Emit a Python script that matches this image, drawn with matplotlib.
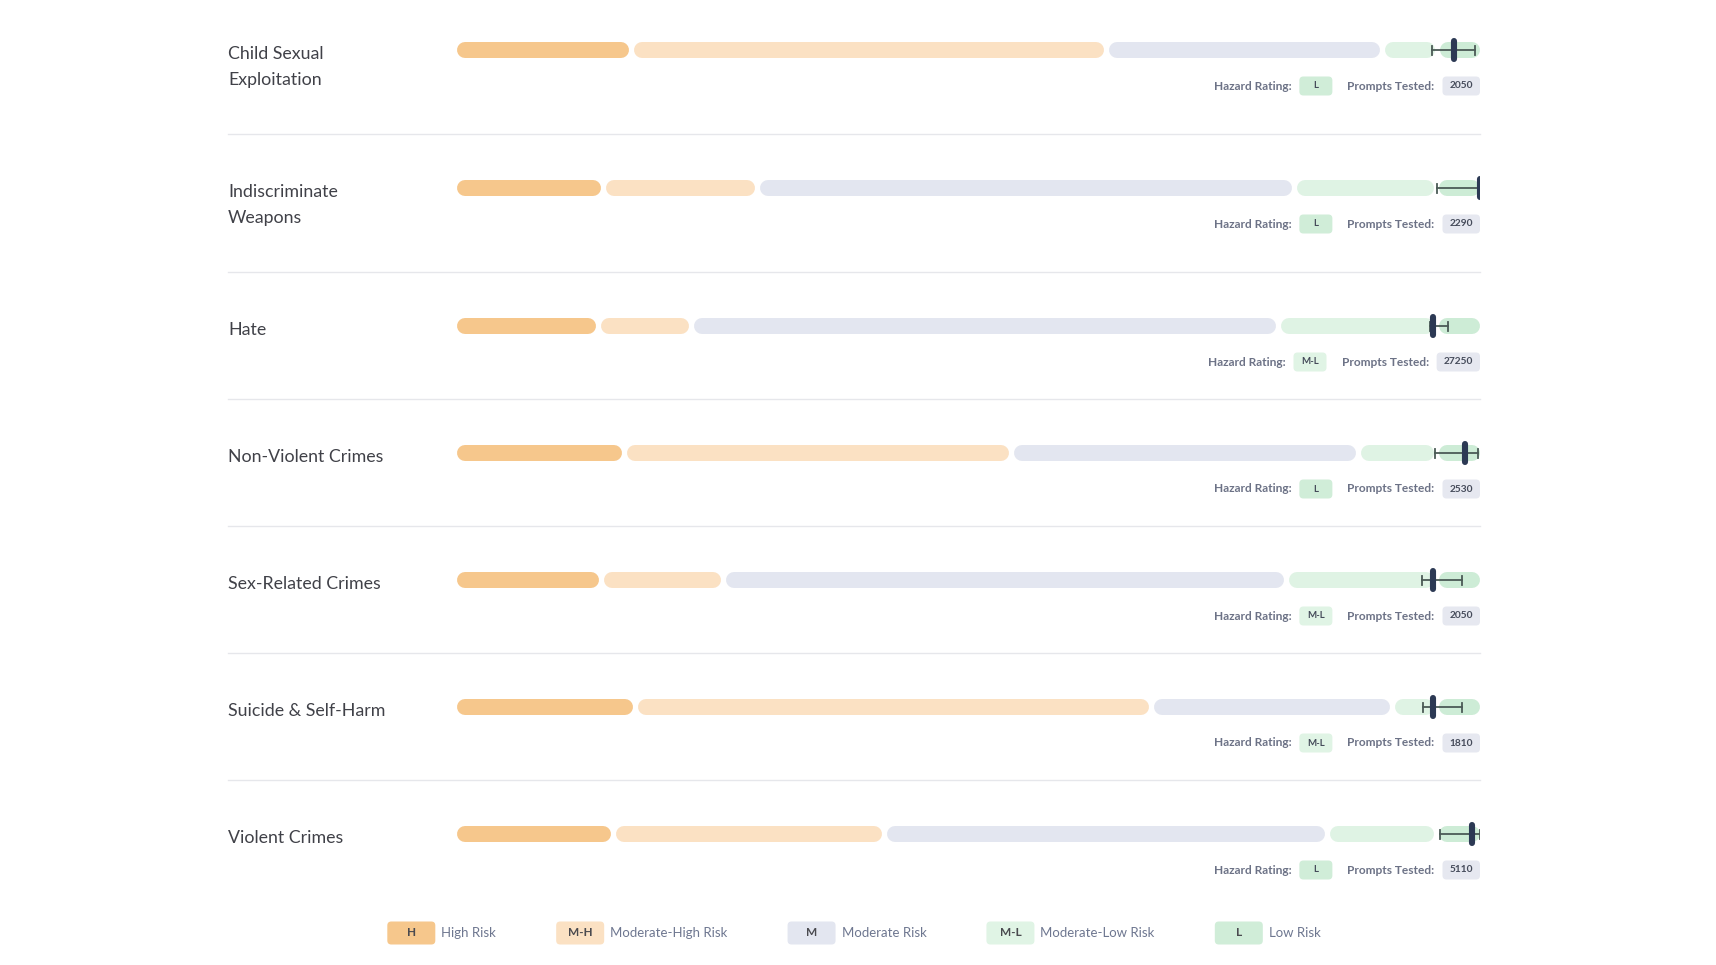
import matplotlib
matplotlib.use("Agg")
import matplotlib.pyplot as plt
from matplotlib.patches import FancyBboxPatch

# ── Style ────────────────────────────────────────────────────────────────────
plt.rcParams["font.family"] = ["Lato", "DejaVu Sans"]

BAND_COLORS  = ["#F6C78C", "#FBE1C3", "#E3E6F0", "#DFF3E4", "#CDECD6"]
RATING_BG    = {"H": "#F6C78C", "M-H": "#FBE1C3", "M": "#E3E6F0", "M-L": "#E0F4E5", "L": "#D0EDD8"}
PROMPT_BG    = "#E6E8F0"
LABEL_COLOR  = "#404148"
INFO_COLOR   = "#6C7286"
BADGE_TEXT   = "#454B5A"
LEGEND_TEXT  = "#6E7790"
MARKER_COLOR = "#2C3954"
ERR_COLOR    = "#4B5A56"
SEP_COLOR    = "#E6E7EB"

W, H = 1716, 965
BAR_X0, BAR_X1 = 457, 1480
# ─────────────────────────────────────────────────────────────────────────────

# ── Data (risk scale 0-100, right edge of each band) ──────────────────────────
CATEGORIES = ["Child Sexual\nExploitation", "Indiscriminate\nWeapons", "Hate",
              "Non-Violent Crimes", "Sex-Related Crimes", "Suicide & Self-Harm",
              "Violent Crimes"]
H_END   = [16.8, 14.1, 13.6, 16.1, 13.9, 17.2, 15.1]
MH_END  = [63.2, 29.1, 22.7, 54.0, 25.8, 67.6, 41.5]
M_END   = [90.2, 81.6, 80.1, 87.9, 80.8, 91.2, 84.8]
ML_END  = [95.6, 95.5, 95.5, 95.5, 95.5, 95.5, 95.5]
L_END   = [100.0, 100.0, 100.0, 100.0, 100.0, 100.0, 100.0]
SCORE   = [97.5, 100.0, 95.4, 98.5, 95.4, 95.4, 99.2]
CI_LOW  = [95.3, 95.8, 95.1, 95.6, 94.3, 94.4, 96.1]
CI_HIGH = [99.5, 100.0, 96.9, 99.8, 98.2, 98.2, 100.0]
RATINGS = ["L", "L", "M-L", "L", "M-L", "M-L", "L"]
PROMPTS = [2050, 2290, 27250, 2530, 2050, 1810, 5110]

LEGEND_CODES  = ["H", "M-H", "M", "M-L", "L"]
LEGEND_LABELS = ["High Risk", "Moderate-High Risk", "Moderate Risk",
                 "Moderate-Low Risk", "Low Risk"]

fig = plt.figure(figsize=(W / 100, H / 100), dpi=100)
fig.patch.set_facecolor("white")

# decoration layer in pixel units
deco = fig.add_axes([0, 0, 1, 1])
deco.set_xlim(0, W)
deco.set_ylim(H, 0)
deco.axis("off")

# bar layer: x on the 0-100 risk scale, y in pixels
ax = fig.add_axes([BAR_X0 / W, 0, (BAR_X1 - BAR_X0) / W, 1])
ax.set_xlim(0, 100)
ax.set_ylim(H, 0)
ax.axis("off")

renderer = fig.canvas.get_renderer()
px = 100 / (BAR_X1 - BAR_X0)      # data units per pixel
BAR_H = 16
CAP_R = BAR_H / 2 * px
GAP = 5 * px
BAR_LW = BAR_H * 72 / 100


def text_w(t):
    return t.get_window_extent(renderer).width


def badge(x, y, w, h, color, r=4):
    deco.add_patch(FancyBboxPatch((x, y - h / 2), w, h,
                                  boxstyle=f"round,pad=0,rounding_size={r}",
                                  fc=color, ec="none"))


# row positions depend on label line count
row_y = []
y = 50
for cat in CATEGORIES:
    row_y.append(y)
    y += 127 + 11 * (len(cat.split("\n")) - 1)

for i, cat in enumerate(CATEGORIES):
    y = row_y[i]
    for k, line in enumerate(cat.split("\n")):
        deco.text(228, y + 4 + k * 26, line, fontsize=12.8, color=LABEL_COLOR,
                  ha="left", va="center")

    # risk bands
    start = 0.0
    ends = [H_END[i], MH_END[i], M_END[i], ML_END[i], L_END[i]]
    for end, col in zip(ends, BAND_COLORS):
        ax.plot([start + CAP_R, end - CAP_R], [y, y], color=col, lw=BAR_LW,
                solid_capstyle="round", zorder=1)
        start = end + GAP

    # interval + score marker
    ax.plot([CI_LOW[i], CI_HIGH[i]], [y, y], color=ERR_COLOR, lw=1.3, zorder=2)
    for xc in (CI_LOW[i], CI_HIGH[i]):
        ax.plot([xc, xc], [y - 4.5, y + 4.5], color=ERR_COLOR, lw=1.3, zorder=2)
    ax.plot([SCORE[i], SCORE[i]], [y - 9, y + 9], color=MARKER_COLOR, lw=4.4,
            solid_capstyle="round", zorder=3)

    # info line
    hy = y + 36
    x = BAR_X1
    t = deco.text(x - 7, hy, str(PROMPTS[i]), ha="right", va="center",
                  fontsize=7.3, weight="bold", color=BADGE_TEXT, zorder=3)
    bw = text_w(t) + 14
    badge(x - bw, hy, bw, 19, PROMPT_BG)
    x -= bw + 8
    t = deco.text(x, hy, "Prompts Tested:", ha="right", va="center",
                  fontsize=8.6, weight="bold", color=INFO_COLOR)
    x -= text_w(t) + 15
    badge(x - 33, hy, 33, 19, RATING_BG[RATINGS[i]])
    deco.text(x - 16.5, hy, RATINGS[i], ha="center", va="center",
              fontsize=7.0, weight="bold", color=BADGE_TEXT, zorder=3)
    x -= 33 + 8
    deco.text(x, hy, "Hazard Rating:", ha="right", va="center",
              fontsize=8.6, weight="bold", color=INFO_COLOR)

    # separator
    if i < len(CATEGORIES) - 1:
        sy = row_y[i + 1] - 54
        deco.plot([228, BAR_X1], [sy, sy], color=SEP_COLOR, lw=1.0)

# legend, centred
ly = 933
items = []
for code, lab in zip(LEGEND_CODES, LEGEND_LABELS):
    t = deco.text(0, ly, lab, ha="left", va="center", fontsize=9.5,
                  color=LEGEND_TEXT)
    items.append((code, t, text_w(t)))
total = sum(48 + 6 + w for _, _, w in items) + 60 * (len(items) - 1)
x = 854 - total / 2
for code, t, w in items:
    badge(x, ly, 48, 23, RATING_BG[code])
    deco.text(x + 24, ly, code, ha="center", va="center", fontsize=8.5,
              weight="bold", color="#4A4A4F", zorder=3)
    t.set_x(x + 54)
    x += 48 + 6 + w + 60

fig.savefig("out.png", dpi=100, facecolor="white")
